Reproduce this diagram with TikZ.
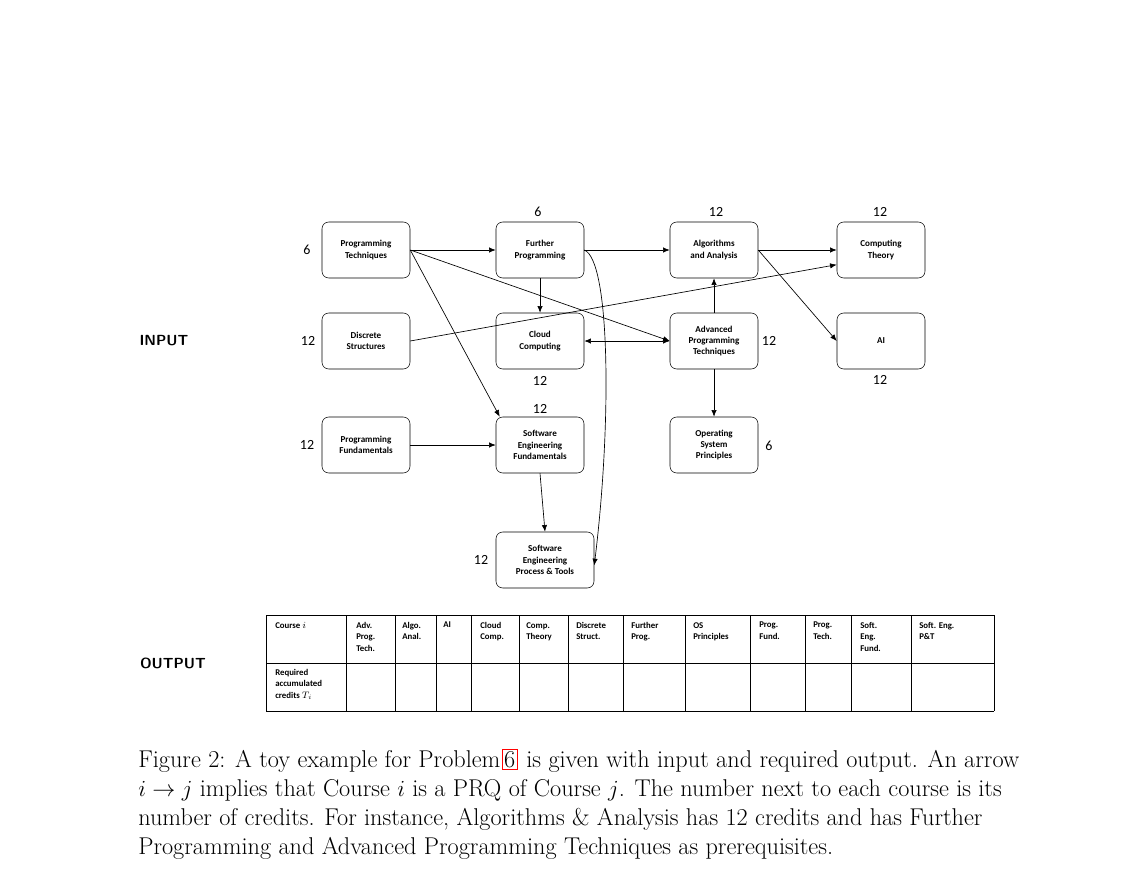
\documentclass[tikz,border=0pt]{standalone}
\usepackage{fontspec}
\newfontfamily\calib{Carlito}
\usetikzlibrary{arrows.meta}
\begin{document}
\begin{tikzpicture}[x=0.75pt,y=-0.75pt,
  box/.style={draw,rounded corners=5pt,minimum width=66pt,minimum height=42pt,align=center,font=\calib\bfseries\fontsize{6.8}{8.5}\selectfont,inner sep=1pt},
  cr/.style={font=\calib\fontsize{10.5}{12}\selectfont},
  ar/.style={-{Latex[length=5pt,width=4pt]},line width=0.5pt},
  cell/.style={anchor=north west,align=left,font=\calib\bfseries\fontsize{6.6}{8.5}\selectfont,inner sep=0pt},
  capline/.style={anchor=base west,font=\fontsize{18.2}{22}\selectfont,inner sep=0pt}]
\useasboundingbox (0,0) rectangle (1136,892);
\node[box] (PT) at (366,250) {Programming\\Techniques};
\node[box] (FP) at (540,250) {Further\\Programming};
\node[box] (AA) at (714,250) {Algorithms\\and Analysis};
\node[box] (CT) at (881,250) {Computing\\Theory};
\node[box] (DS) at (366,341) {Discrete\\Structures};
\node[box] (CC) at (540,341) {Cloud\\Computing};
\node[box] (APT) at (714,341) {Advanced\\Programming\\Techniques};
\node[box] (AI) at (881,341) {AI};
\node[box] (PF) at (366,445) {Programming\\Fundamentals};
\node[box] (SEF) at (540,445) {Software\\Engineering\\Fundamentals};
\node[box] (OSP) at (714,445) {Operating\\System\\Principles};
\node[box,minimum width=73.5pt] (SEPT) at (545,560) {Software\\Engineering\\Process \& Tools};
\node[cr] (c1) at (307,250) {6};
\node[cr] (c2) at (538,212) {6};
\node[cr] (c3) at (716,212) {12};
\node[cr] (c4) at (880,212) {12};
\node[cr] (c5) at (308,341) {12};
\node[cr] (c6) at (540,381) {12};
\node[cr] (c7) at (769,341) {12};
\node[cr] (c8) at (880,380) {12};
\node[cr] (c9) at (540,409) {12};
\node[cr] (c10) at (307,445) {12};
\node[cr] (c11) at (769,446) {6};
\node[cr] (c12) at (481,560) {12};
\draw[ar] (PT.east) -- (FP.west);
\draw[ar] (FP.east) -- (AA.west);
\draw[ar] (AA.east) -- (CT.west);
\draw[ar] (PT.east) -- (APT.west);
\draw[ar] (PT.east) -- ([xshift=3pt]SEF.north west);
\draw[ar] (FP.south) -- (CC.north);
\draw[ar] (FP.east) .. controls (610,260) and (612,420) .. ([yshift=-4pt]SEPT.east);
\draw[ar] (DS.east) -- ([yshift=-11pt]CT.west);
\draw[{Latex[length=5pt,width=4pt]}-{Latex[length=5pt,width=4pt]},line width=0.5pt] (CC.east) -- (APT.west);
\draw[ar] (APT.north) -- (AA.south);
\draw[ar] (AA.east) -- (AI.west);
\draw[ar] (APT.south) -- (OSP.north);
\draw[ar] (PF.east) -- (SEF.west);
\draw[ar] (SEF.south) -- (SEPT.north);
\node[font=\sffamily\bfseries\fontsize{11}{13}\selectfont] (inp) at (164,341) {INPUT};
\node[font=\sffamily\bfseries\fontsize{11}{13}\selectfont] (outp) at (173,663) {OUTPUT};
% table
\draw[line width=0.5pt] (266,615) -- (994,615) (266,663) -- (994,663) (266,711) -- (994,711);
\foreach \x in {266,346,395,436,471,519,568,623,685,750,805,851,911,994}
  \draw[line width=0.5pt] (\x,615) -- (\x,711);
\foreach \x/\t in {275/{Course $i$},356/{Adv.\\Prog.\\Tech.},402/{Algo.\\Anal.},443/{AI},480/{Cloud\\Comp.},526/{Comp.\\Theory},576/{Discrete\\Struct.},631/{Further\\Prog.},693/{OS\\Principles},759/{Prog.\\Fund.},813/{Prog.\\Tech.},860/{Soft.\\Eng.\\Fund.},919/{Soft. Eng.\\P\&T}}
  \node[cell] at (\x,622) {\t};
\node[cell] (rq) at (275,669) {Required\\accumulated\\credits $T_i$};
% caption
\node[capline] (l1a) at (138,767) {Figure 2: A toy example for Problem\ };
\node[capline,draw=red,line width=0.4pt,inner sep=1.2pt] (l1b) at ([xshift=1.2pt]l1a.base east) {6};
\node[capline] (l1c) at ([xshift=1.2pt]l1b.base east) {\ is given with input and required output. An arrow};
\node[capline] (l2) at (138,796) {$i\to j$ implies that Course $i$ is a PRQ of Course $j$. The number next to each course is its};
\node[capline] (l3) at (138,825) {number of credits. For instance, Algorithms \& Analysis has 12 credits and has Further};
\node[capline] (l4) at (138,854) {Programming and Advanced Programming Techniques as prerequisites.};
\end{tikzpicture}
\end{document}
